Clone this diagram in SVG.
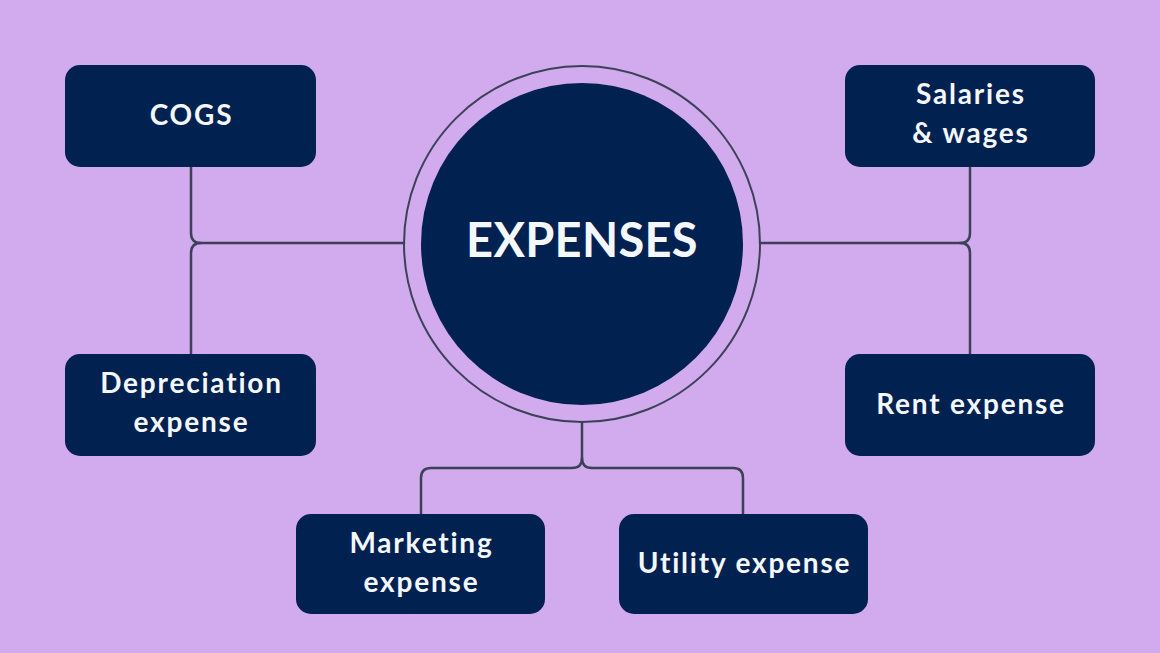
<svg xmlns="http://www.w3.org/2000/svg" width="1160" height="653" viewBox="0 0 1160 653">
<style>
.bg{fill:#d2aaee}
.box{fill:#012150}
.lbl{font-family:Lato,"Open Sans","Liberation Sans",sans-serif;font-weight:700;font-size:28px;letter-spacing:1.8px;fill:#f4f7fc;text-anchor:middle}
.big{font-size:47px;letter-spacing:0.3px}
.con{fill:none;stroke:#3b4257;stroke-width:2.5;stroke-linecap:round;stroke-linejoin:round}
.ring{fill:none;stroke:#3b4257;stroke-width:2}
</style>
<rect class="bg" x="0" y="0" width="1160" height="653"/>
<g id="connectors">
<path class="con" d="M191,167 V233 Q191,243 201,243 H404"/>
<path class="con" d="M191,354 V253 Q191,243 201,243"/>
<path class="con" d="M970,167 V233 Q970,243 960,243 H760"/>
<path class="con" d="M970,354 V253 Q970,243 960,243"/>
<path class="con" d="M582,422 V458 Q582,468 572,468 H431 Q421,468 421,478 V514"/>
<path class="con" d="M582,458 Q582,468 592,468 H733 Q743,468 743,478 V514"/>
</g>
<g id="center">
<circle class="ring" cx="582" cy="244" r="178"/>
<circle class="box" cx="582" cy="244" r="161"/>
<text class="lbl big" x="582" y="257">EXPENSES</text>
</g>
<g id="cogs">
<rect class="box" x="65" y="65" width="251" height="102" rx="15"/>
<text class="lbl" x="191.5" y="125">COGS</text>
</g>
<g id="depreciation">
<rect class="box" x="65" y="354" width="251" height="102" rx="15"/>
<text class="lbl" x="191.5" y="393">Depreciation</text>
<text class="lbl" x="191.5" y="432">expense</text>
</g>
<g id="salaries">
<rect class="box" x="845" y="65" width="250" height="102" rx="15"/>
<text class="lbl" x="971" y="104">Salaries</text>
<text class="lbl" x="971" y="143">&amp; wages</text>
</g>
<g id="rent">
<rect class="box" x="845" y="354" width="250" height="102" rx="15"/>
<text class="lbl" x="971" y="414">Rent expense</text>
</g>
<g id="marketing">
<rect class="box" x="296" y="514" width="249" height="100" rx="15"/>
<text class="lbl" x="421.5" y="553">Marketing</text>
<text class="lbl" x="421.5" y="592">expense</text>
</g>
<g id="utility">
<rect class="box" x="619" y="514" width="249" height="100" rx="15"/>
<text class="lbl" x="744.5" y="573">Utility expense</text>
</g>
</svg>
